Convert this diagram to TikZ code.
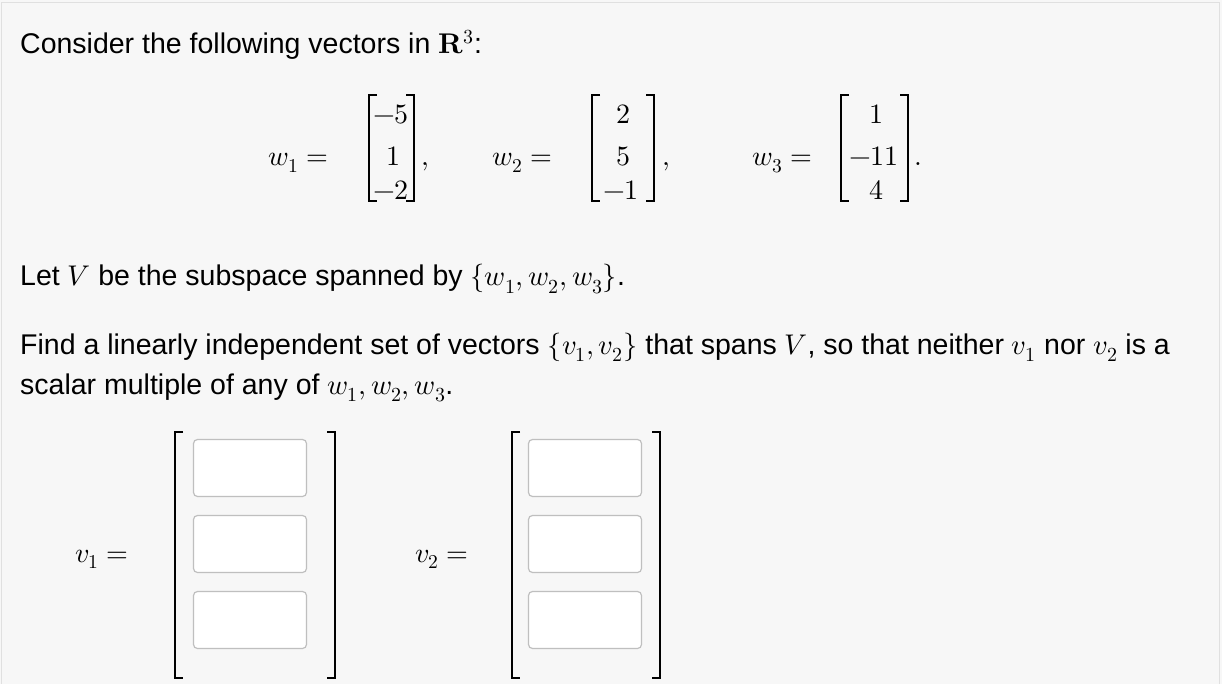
\documentclass[tikz,border=0pt]{standalone}
\usepackage{amsmath}
\usepackage{fontspec}
\setmainfont{Liberation Sans}
\usepackage{unicode-math}
\setmathfont{Latin Modern Math}
\begin{document}
\begin{tikzpicture}[x=1pt,y=-1pt,
  txt/.style={anchor=base west,inner sep=0pt,font=\fontsize{28.5}{34}\selectfont},
  mth/.style={anchor=base,inner sep=0pt,font=\fontsize{28}{34}\selectfont},
  brk/.style={line width=1.5pt},
  ansbox/.style={draw=black!25,line width=1.2pt,rounded corners=4pt,fill=white}]
\useasboundingbox (0,0) rectangle (1222,684);
\fill[black!3] (0,0) rectangle (1222,684);
\draw[black!12,line width=1pt] (1,684) -- (1,3) -- (1219,3) -- (1219,684);
\node[txt] (t1) at (20,54) {Consider the following vectors in $\symbf{R}^3$:};
% w vectors
\node[mth,anchor=base west] (w1) at (268,166) {$w_1 =$};
\draw[brk] (377,95) -- (369,95) -- (369,201) -- (377,201);
\draw[brk] (406,95) -- (414,95) -- (414,201) -- (406,201);
\node[mth] (a1) at (391,124) {$-5$};
\node[mth] (a2) at (393,166) {$1$};
\node[mth] (a3) at (391,200) {$-2$};
\node[mth] (c1) at (425,166) {$,$};
\node[mth,anchor=base west] (w2) at (492,166) {$w_2 =$};
\draw[brk] (600,95) -- (592,95) -- (592,201) -- (600,201);
\draw[brk] (646,95) -- (654,95) -- (654,201) -- (646,201);
\node[mth] (b1) at (623,124) {$2$};
\node[mth] (b2) at (623,166) {$5$};
\node[mth] (b3) at (621,200) {$-1$};
\node[mth] (c2) at (666,166) {$,$};
\node[mth,anchor=base west] (w3) at (752,166) {$w_3 =$};
\draw[brk] (849,95) -- (841,95) -- (841,201) -- (849,201);
\draw[brk] (900,95) -- (908,95) -- (908,201) -- (900,201);
\node[mth] (d1) at (876,124) {$1$};
\node[mth] (d2) at (874,166) {$-11$};
\node[mth] (d3) at (876,200) {$4$};
\node[mth] (c3) at (918,166) {$.$};
\node[txt] (t2) at (20,286) {Let $V$ be the subspace spanned by $\{w_1,w_2,w_3\}$.};
\node[txt] (t3) at (20,354) {Find a linearly independent set of vectors $\{v_1,v_2\}$ that spans $V$, so that neither $v_1$ nor $v_2$ is a};
\node[txt] (t4) at (20,394) {scalar multiple of any of $w_1,w_2,w_3$.};
% v vectors
\node[mth,anchor=base west] (v1) at (75,562) {$v_1 =$};
\draw[brk] (183,432) -- (175,432) -- (175,678) -- (183,678);
\draw[brk] (327,432) -- (335,432) -- (335,678) -- (327,678);
\node[ansbox,minimum width=113pt,minimum height=57pt] (x1) at (250,468) {};
\node[ansbox,minimum width=113pt,minimum height=57pt] (x2) at (250,544) {};
\node[ansbox,minimum width=113pt,minimum height=57pt] (x3) at (250,620) {};
\node[mth,anchor=base west] (v2) at (415,562) {$v_2 =$};
\draw[brk] (520,432) -- (512,432) -- (512,678) -- (520,678);
\draw[brk] (652,432) -- (660,432) -- (660,678) -- (652,678);
\node[ansbox,minimum width=113pt,minimum height=57pt] (y1) at (585,468) {};
\node[ansbox,minimum width=113pt,minimum height=57pt] (y2) at (585,544) {};
\node[ansbox,minimum width=113pt,minimum height=57pt] (y3) at (585,620) {};
\end{tikzpicture}
\end{document}
